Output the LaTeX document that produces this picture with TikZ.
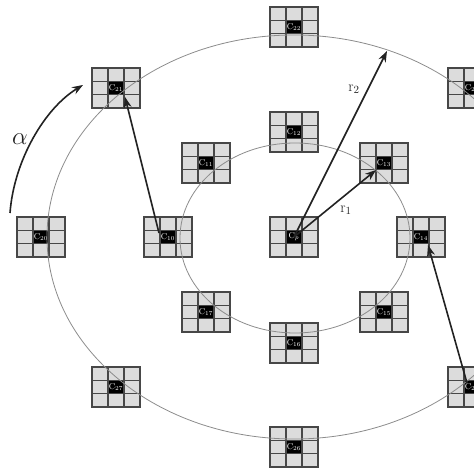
\documentclass[tikz,border=0pt]{standalone}
\usetikzlibrary{arrows.meta,calc}
\tikzset{
  cellbox/.style={draw=none,fill=cellgrey,minimum width=48pt,minimum height=40pt,inner sep=0pt,outer sep=0pt},
  gridline/.style={draw=gridgrey,line width=1.3pt},
  celllab/.style={text=white,font=\fontsize{8.5}{9}\selectfont,inner sep=0pt},
  ring/.style={draw=ringgrey,line width=0.8pt},
  arr/.style={draw=arrowdark,line width=1.6pt,-{Stealth[length=11pt,width=8pt]}},
  rlab/.style={font=\fontsize{15}{17}\selectfont,text=arrowdark,inner sep=0pt},
}
\definecolor{cellgrey}{HTML}{DCDCDC}
\definecolor{gridgrey}{HTML}{474747}
\definecolor{ringgrey}{HTML}{8C8C8C}
\definecolor{arrowdark}{HTML}{222222}
\newcommand\mycell[4]{%
  \node[cellbox] (#1) at (#2,#3) {};
  \fill[black] ({#2-8},{#3-6.67}) rectangle ({#2+8},{#3+6.67});
  \draw[gridline] ({#2-24},{#3-20}) rectangle ({#2+24},{#3+20});
  \draw[gridline] ({#2-8},{#3-20}) -- ({#2-8},{#3+20});
  \draw[gridline] ({#2+8},{#3-20}) -- ({#2+8},{#3+20});
  \draw[gridline] ({#2-24},{#3-6.67}) -- ({#2+24},{#3-6.67});
  \draw[gridline] ({#2-24},{#3+6.67}) -- ({#2+24},{#3+6.67});
  \node[celllab] at (#1.center) {C$_{#4}$};
}
\begin{document}
\begin{tikzpicture}[x=1pt,y=-1pt]
\useasboundingbox (0,0) rectangle (474,470);
\clip (0,0) rectangle (474,470);
% cells
\mycell{Cp}{294}{237}{p}
\mycell{C10}{168}{237}{10}
\mycell{C11}{206}{163}{11}
\mycell{C12}{294}{132}{12}
\mycell{C13}{384}{163}{13}
\mycell{C14}{421}{237}{14}
\mycell{C15}{384}{312}{15}
\mycell{C16}{294}{343}{16}
\mycell{C17}{206}{312}{17}
\mycell{C20}{41}{237}{20}
\mycell{C21}{116}{88}{21}
\mycell{C22}{294}{27}{22}
\mycell{C23}{472}{88}{23}
\mycell{C25}{472}{387}{25}
\mycell{C26}{294}{447}{26}
\mycell{C27}{116}{387}{27}
% rings
\coordinate (ctr) at (294,237);
\draw[ring] (295,238) ellipse [x radius=115pt, y radius=95pt];
\draw[ring] (ctr) ellipse [x radius=247pt, y radius=202pt];
% arrows
\coordinate (r2end) at (387,51);
\coordinate (r1end) at (376,170);
\coordinate (s10) at (159,233);
\coordinate (e21) at (125,97);
\coordinate (s25) at (467,383);
\coordinate (e14) at (428,245);
\draw[arr] (Cp.center) -- (r2end);
\draw[arr] (Cp.center) -- (r1end);
\draw[arr] (s10) -- (e21);
\draw[arr] (s25) -- (e14);
\node[rlab] (lr2) at (354,89) {r$_2$};
\node[rlab] (lr1) at (346,210) {r$_1$};
% alpha arc
\coordinate (a0) at (10,213);
\coordinate (a1) at (83,85);
\draw[arr] (a0) .. controls (14,160) and (45,108) .. (a1);
\node[font=\fontsize{27}{29}\selectfont,text=arrowdark,inner sep=0pt] (alpha) at (20,139) {$\alpha$};
\end{tikzpicture}
\end{document}
